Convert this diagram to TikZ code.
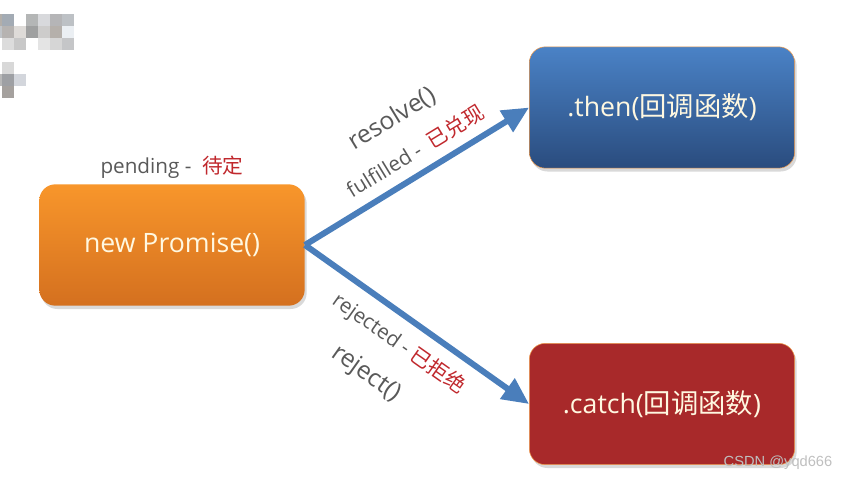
\documentclass[tikz,border=0pt]{standalone}
\usepackage{fontspec}
\setmainfont{Open Sans}
\newfontfamily\cjk{Noto Sans CJK SC}
\newfontfamily\wmfont{Liberation Sans}
\usetikzlibrary{arrows.meta,positioning,shadows}
\definecolor{ink}{HTML}{595959}
\definecolor{crimson}{HTML}{C0282D}
\definecolor{flow}{HTML}{4A7EBB}
\definecolor{cream}{HTML}{FFF8E1}
\definecolor{rim}{HTML}{EE9A4D}
\definecolor{orangetop}{HTML}{F8962B}
\definecolor{orangebot}{HTML}{D4701F}
\definecolor{bluetop}{HTML}{4A82C6}
\definecolor{bluebot}{HTML}{2A4C7E}
\definecolor{redfill}{HTML}{A8292A}
\newcommand\cbname{{\cjk\fontsize{20.5}{21}\selectfont 回调函数}}

\begin{document}
\begin{tikzpicture}[x=0.75pt,y=-0.75pt,>=Stealth,
  state/.style={rectangle,rounded corners=12pt,minimum width=199pt,minimum height=91pt,
    text=cream,font=\fontsize{20}{22}\selectfont,
    drop shadow={opacity=0.3,shadow xshift=1.5pt,shadow yshift=-2.5pt}},
  lbl/.style={text=ink,font=\fontsize{15.5}{17}\selectfont},
  call/.style={text=ink,font=\fontsize{18.5}{20}\selectfont},
  flowline/.style={draw=flow,line width=4.5pt,-{Triangle[length=20pt,width=18pt]}}]
\useasboundingbox (0,0) rectangle (847,479);
\foreach \x/\y/\c in {-10/14/B2AEA9,2/14/A3ABB4,26/14/B4B6B6,38/14/D8D9DC,50/14/B5B5B7,62/14/BDC1C5,
  -10/26/C0C4C8,2/26/B6B3B1,14/26/DEDBD8,26/26/9FA0A0,38/26/CDCCCB,50/26/B5B0AB,62/26/EBEFF3,
  2/38/DCDCDC,14/38/C8C8C8,38/38/E4E4E4,50/38/D6D6D6,62/38/C5C6C8,
  2/62/D8D8D8,-10/74/B8B8B8,2/74/9EA0A4,14/74/D3D6DC,2/86/A5A19E}
  {\definecolor{mc}{HTML}{\c}\fill[mc] (\x,\y) rectangle ++(12,12);}
\node[state,top color=orangetop,bottom color=orangebot] (np) at (172,245) {new Promise()};
\node[state,draw=rim,thin,top color=bluetop,bottom color=bluebot] (then) at (662,107.5) {.then(\cbname)};
\node[state,draw=rim,thin,fill=redfill] (catch) at (662,404) {.catch(\cbname)};
\node[lbl,above=1pt of np] (pend) {pending -\ \ {\cjk\color{crimson}待定}};
\draw[flowline] (np.east) -- (then.west);
\draw[flowline] (np.east) -- (catch.west);
\node[call,rotate=31.4] (res) at (392,119) {resolve()};
\node[lbl,rotate=31.4] (ful) at (415,151) {fulfilled -\ \ {\cjk\color{crimson}已兑现}};
\node[lbl,rotate=-35.3] (rej) at (399,344) {rejected -\ {\cjk\color{crimson}已拒绝}};
\node[call,rotate=-35.3] (rjc) at (366,374) {reject()};
\node[text=black!25,font=\wmfont\fontsize{11}{13}\selectfont] (wm) at (778,463) {CSDN @yqd666};
\end{tikzpicture}
\end{document}
